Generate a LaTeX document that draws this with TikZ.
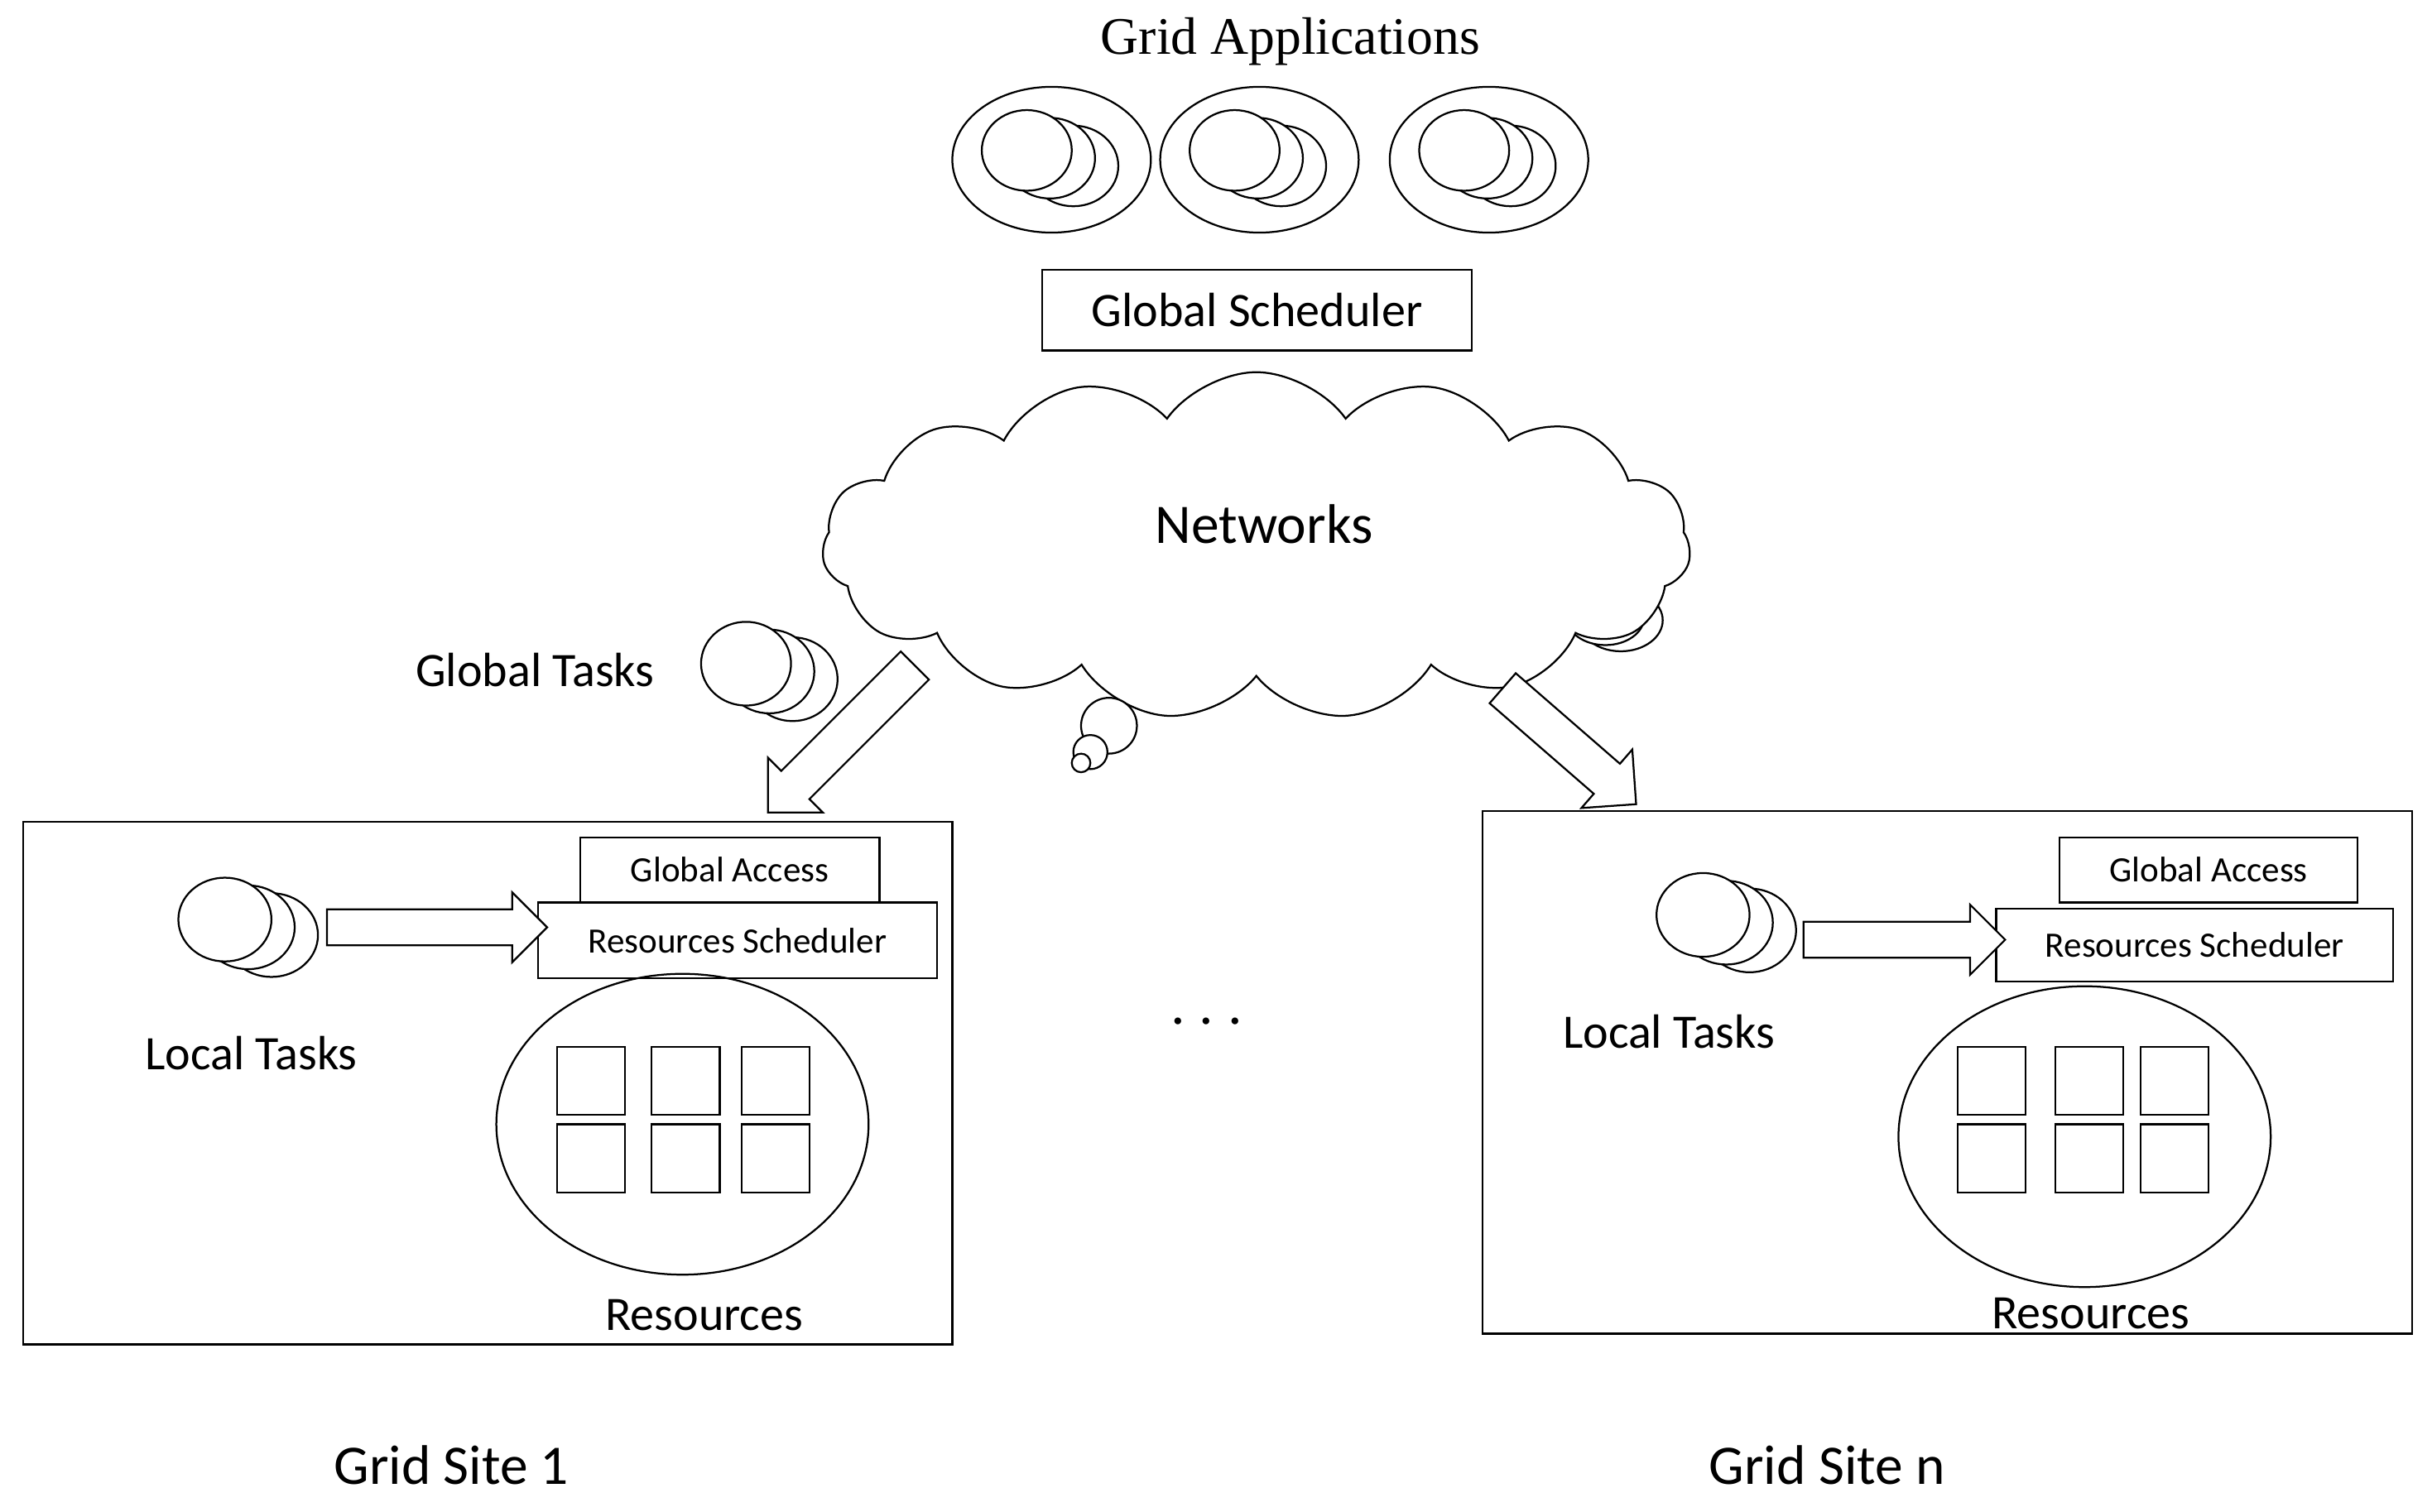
\documentclass[tikz,border=0pt]{standalone}
\usepackage{fontspec}
\setmainfont{Carlito}
\newfontfamily\serifr{Liberation Serif}
\usetikzlibrary{shapes.symbols,shapes.arrows,shapes.geometric}
\begin{document}
\begin{tikzpicture}[x=0.5pt,y=-0.5pt,line width=0.6pt,
  box/.style={draw,rectangle,inner sep=0pt},
  lbl/.style={font=\fontsize{15.5}{18}\selectfont},
  small/.style={font=\fontsize{11.5}{14}\selectfont},
  big/.style={font=\fontsize{18}{21}\selectfont},
  harrow/.style={draw,fill=white,single arrow,inner sep=5.5pt,single arrow head extend=5.5pt,single arrow head indent=0pt,anchor=center},
  sq/.style={draw,rectangle,minimum size=22pt,inner sep=0pt}]
\useasboundingbox (0,0) rectangle (1568,975);
% stacked circles macro
\newcommand{\stack}[4]{% x y rx ry
  \draw[fill=white] (#1+30,#2+10) ellipse ({#3} and {#4});
  \draw[fill=white] (#1+15,#2+5) ellipse ({#3} and {#4});
  \draw[fill=white] (#1,#2) ellipse ({#3} and {#4});}
\node[font=\serifr\fontsize{17}{20}\selectfont] (ga) at (832,27) {Grid Applications};
\foreach \cx/\n in {678/a1,812/a2,960/a3}{
  \draw (\cx,103) ellipse (64 and 47);
  \stack{\cx-16}{97}{29}{26}
}
\node[box,minimum width=138.5pt,minimum height=26pt,lbl] (gs) at (810.5,200) {Global Scheduler};
% small circles behind cloud right
\draw[fill=white] (1045,400) ellipse (27 and 20);
\draw[fill=white] (1035,398) ellipse (25 and 18);
\node[draw,fill=white,cloud,cloud puffs=15,cloud puff arc=110,aspect=2.4,minimum width=280pt,minimum height=112pt,inner sep=0pt] (net) at (810,352) {};
\node[big] at (815,338) {Networks};
\draw[fill=white] (715,468) circle (18);
\draw[fill=white] (703,485) circle (11);
\draw[fill=white] (697,492) circle (6);
% global tasks
\node[lbl] (gt) at (345,432) {Global Tasks};
\stack{481}{428}{29}{27}
% big arrows
\node[harrow,minimum height=67pt,minimum width=25pt,rotate=225] (arr1) at (547,472) {};
\node[harrow,minimum height=57pt,minimum width=25pt,rotate=-41] (arr2) at (1007,477) {};
% site 1
\node[box,minimum width=299.5pt,minimum height=168.5pt] (s1) at (314.5,698.5) {};
\node[box,minimum width=96.5pt,minimum height=21pt,small] (g1) at (470.5,561) {Global Access};
\node[box,minimum width=128.5pt,minimum height=24.5pt,small] (r1) at (475.5,606.5) {Resources Scheduler};
\stack{145}{593}{30}{27}
\node[harrow,minimum height=71pt,minimum width=22pt] (la1) at (276,598) {};
\node[lbl] (lt1) at (162,679) {Local Tasks};
\draw (440,725) ellipse (120 and 97);
\foreach \x in {381,442,500}{\foreach \y in {697,747}{\node[sq] at (\x,\y) {};}}
\node[lbl] (res1) at (454,848) {Resources};
\node[big] (s1l) at (291,945) {Grid Site 1};
\node[font=\fontsize{20}{20}\selectfont] at (778,660) {$\cdots$};
% site n
\node[box,minimum width=299.5pt,minimum height=168.5pt] (sn) at (1255.5,691.5) {};
\node[box,minimum width=96pt,minimum height=21pt,small] (gn) at (1424,561) {Global Access};
\node[box,minimum width=128pt,minimum height=23.5pt,small] (rn) at (1415,609.5) {Resources Scheduler};
\stack{1098}{590}{30}{27}
\node[harrow,minimum height=65pt,minimum width=22pt] (lan) at (1222,606) {};
\node[lbl] (ltn) at (1076,665) {Local Tasks};
\draw (1344,733) ellipse (120 and 97);
\foreach \x in {1284,1347,1402}{\foreach \y in {697,747}{\node[sq] at (\x,\y) {};}}
\node[lbl] (resn) at (1348,847) {Resources};
\node[big] (snl) at (1178,945) {Grid Site n};
\end{tikzpicture}
\end{document}
